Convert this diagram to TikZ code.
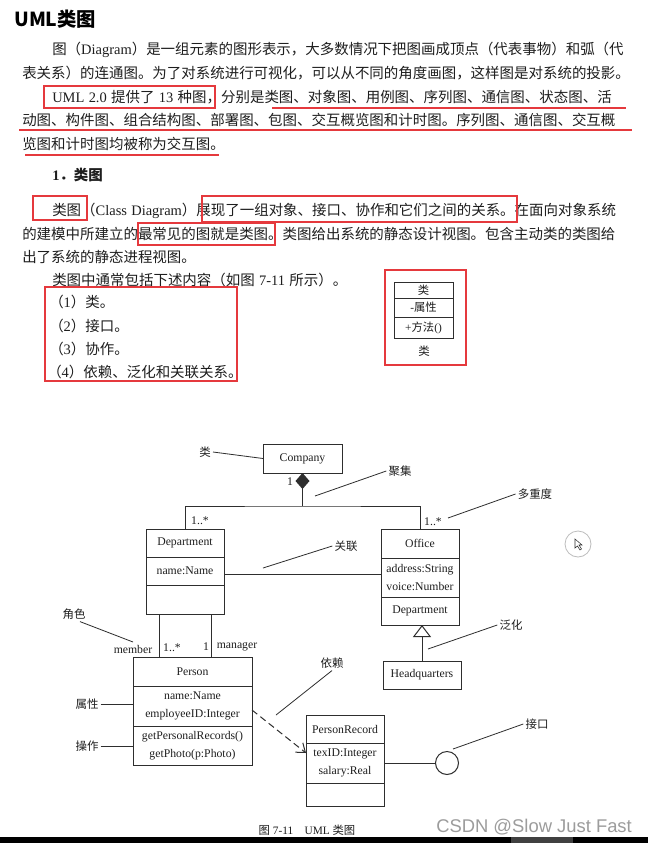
\documentclass[tikz,border=0pt]{standalone}
\usepackage{fontspec}
\setmainfont{Liberation Serif}
\setsansfont{Liberation Sans}
\newfontfamily\zh{Noto Sans CJK SC}
\usepackage{xcolor}
\usepackage{tikz}
\usetikzlibrary{arrows.meta,positioning}
\XeTeXlinebreaklocale "zh"
\XeTeXlinebreakskip=0pt plus 1pt
\definecolor{Ink}{HTML}{1E1E1E}
\definecolor{Pen}{HTML}{2E2E2E}
\definecolor{Mark}{HTML}{E5393D}
\definecolor{Stamp}{HTML}{9C9C9C}
\definecolor{Ring}{HTML}{BDBDBD}
\newcommand{\en}[1]{{\rmfamily\spaceskip=.3em\relax\xspaceskip=.3em\relax#1}}
\newcommand{\fullline}[2]{\makebox[#1][s]{#2}}
\tikzset{
  para/.style={anchor=west,inner sep=0pt,text=Ink,font=\zh\fontsize{10.85}{13}\selectfont},
  hl/.style={draw=Mark,line width=1.1pt},
  cls/.style={draw=Pen,line width=.75pt,fill=white,inner sep=0pt,outer sep=0pt,align=center,minimum width=#1,text=Ink,font=\fontsize{8.8}{13.5}\selectfont},
  num/.style={inner sep=0pt,text=Ink,font=\fontsize{8.8}{10}\selectfont},
  tag/.style={inner sep=1.5pt,text=Ink,font=\zh\fontsize{8.6}{10}\selectfont},
  lead/.style={draw=Pen,line width=.6pt},
  link/.style={draw=Pen,line width=.75pt},
  depend/.style={draw=Pen,line width=.75pt,dash pattern=on 5pt off 3pt,-{Straight Barb[length=6pt,width=9pt]}}
}
\begin{document}
\begin{tikzpicture}[x=.75pt,y=-.75pt]
  \fill[white] (0,0) rectangle (648,843);
  \useasboundingbox (0,0) rectangle (648,843);
  \node[anchor=west,inner sep=0pt,font=\zh\bfseries\fontsize{14.5}{17}\selectfont] (ttl) at (14,19) {UML类图};
  \node[para] (l1) at (52,50) {\fullline{433.5pt}{图（\en{Diagram}）是一组元素的图形表示，大多数情况下把图画成顶点（代表事物）和弧（代}};
  \node[para] (l2) at (22,73) {\fullline{457.5pt}{表关系）的连通图。为了对系统进行可视化，可以从不同的角度画图，这样图是对系统的投影。}};
  \node[para] (l3) at (52,97) {\fullline{433.5pt}{\en{UML 2.0 }提供了\en{ 13 }种图，分别是类图、对象图、用例图、序列图、通信图、状态图、活}};
  \node[para] (l4) at (22,120) {\fullline{457.5pt}{动图、构件图、组合结构图、部署图、包图、交互概览图和计时图。序列图、通信图、交互概}};
  \node[para] (l5) at (22,144) {览图和计时图均被称为交互图。};
  \node[para,font=\zh\bfseries\fontsize{10.85}{13}\selectfont] (sec) at (52,175) {\en{1}．类图};
  \node[para] (l6) at (52,211) {\fullline{433.5pt}{类图（\en{Class Diagram}）展现了一组对象、接口、协作和它们之间的关系。在面向对象系统}};
  \node[para] (l7) at (22,234) {\fullline{457.5pt}{的建模中所建立的最常见的图就是类图。类图给出系统的静态设计视图。包含主动类的类图给}};
  \node[para] (l8) at (22,257) {出了系统的静态进程视图。};
  \node[para] (l9) at (52,280) {类图中通常包括下述内容（如图\en{ 7-11 }所示）。};
  \node[para] (it1) at (49,302) {（\en{1}）类。};
  \node[para] (it2) at (49,326) {（\en{2}）接口。};
  \node[para] (it3) at (49,349) {（\en{3}）协作。};
  \node[para] (it4) at (47,372) {（\en{4}）依赖、泛化和关联关系。};
  \draw[hl] (44,86) rectangle (215,108);
  \draw[hl] (272,108) -- (626,108);
  \draw[hl] (19,130) -- (632,130);
  \draw[hl] (25,155) -- (219,155);
  \draw[hl] (33,196) rectangle (87,220);
  \draw[hl] (202,196) rectangle (517,222);
  \draw[hl] (138,223) rectangle (275,245);
  \draw[hl] (45,287) rectangle (237,381);
  \draw[hl] (385,270) rectangle (466,365);
  \node[cls=44.25pt,minimum height=12pt,anchor=north west,font=\zh\fontsize{8.5}{10}\selectfont] (sN) at (394,282) {类};
  \node[cls=44.25pt,minimum height=14.25pt,below=0pt of sN,font=\zh\fontsize{8.5}{10}\selectfont] (sA) {\en{-}属性};
  \node[cls=44.25pt,minimum height=15.75pt,below=0pt of sA,font=\zh\fontsize{8.5}{10}\selectfont] (sO) {\en{+}方法\en{()}};
  \node[tag] (sCap) at (424,351) {类};
  \node[cls=59.25pt,minimum height=21.75pt,anchor=north west] (co) at (263,444) {Company};
  \node[cls=58.5pt,minimum height=21pt,anchor=north west] (dep) at (146,529) {Department};
  \node[cls=58.5pt,minimum height=21pt,below=0pt of dep] (depA) {name:Name};
  \node[cls=58.5pt,minimum height=21.75pt,below=0pt of depA] (depO) {};
  \node[cls=58.5pt,minimum height=21.75pt,anchor=north west] (off) at (381,529) {Office};
  \node[cls=58.5pt,minimum height=29.25pt,below=0pt of off] (offA) {address:String\\voice:Number};
  \node[cls=58.5pt,minimum height=21pt,below=0pt of offA] (offD) {Department};
  \node[cls=58.5pt,minimum height=21pt,anchor=north west] (hq) at (383,661) {Headquarters};
  \node[cls=89.25pt,minimum height=21.75pt,anchor=north west] (per) at (133,657) {Person};
  \node[cls=89.25pt,minimum height=30pt,below=0pt of per] (perA) {name:Name\\employeeID:Integer};
  \node[cls=89.25pt,minimum height=29.25pt,below=0pt of perA] (perO) {getPersonalRecords()\\getPhoto(p:Photo)};
  \node[cls=58.5pt,minimum height=21pt,anchor=north west] (pr) at (306,715) {PersonRecord};
  \node[cls=58.5pt,minimum height=30pt,below=0pt of pr] (prA) {texID:Integer\\salary:Real};
  \node[cls=58.5pt,minimum height=17.25pt,below=0pt of prA] (prO) {};
  \node[circle,draw=Pen,line width=.75pt,minimum size=17.25pt,inner sep=0pt] (ifc) at (447,763) {};
  \coordinate (jn) at (302.5,506);
  \draw[link,{Diamond[length=12pt,width=10.5pt]}-] (co.south) -- (jn);
  \draw[link] (dep.north) |- (jn) -| (off.north);
  \draw[link] ([yshift=-2.25pt]depA.east) -- ([yshift=-2.25pt]depA.east -| offA.west);
  \draw[link,-{Triangle[open,length=9pt,width=13.5pt]}] (hq.north) -- (hq.north |- offD.south);
  \draw[link] ([xshift=9.75pt]depO.south west) -- ([xshift=9.75pt]depO.south west |- per.north);
  \draw[link] ([xshift=-9.75pt]depO.south east) -- ([xshift=-9.75pt]depO.south east |- per.north);
  \draw[depend] ([yshift=-3pt]perA.east) -- ([yshift=7.5pt]prA.west);
  \draw[link] (prA.east) -- (ifc.west);
  \node[num] (mCo) at (290,482) {1};
  \node[num] (mDep) at (200,521) {1..*};
  \node[num] (mOff) at (433,522) {1..*};
  \node[num] (rMem) at (133,649) {member};
  \node[num] (mMem) at (172,648) {1..*};
  \node[num] (mMan) at (206,647) {1};
  \node[num] (rMan) at (237,647) {manager};
  \node[tag] (tCls) at (205,452) {类};
  \node[tag] (tAgg) at (400,471) {聚集};
  \node[tag] (tMul) at (535,494) {多重度};
  \node[tag] (tAsc) at (346,546) {关联};
  \node[tag] (tGen) at (511,625) {泛化};
  \node[tag] (tRole) at (74,614) {角色};
  \node[tag] (tAtt) at (87,704) {属性};
  \node[tag] (tOp) at (87,746) {操作};
  \node[tag] (tDep) at (332,663) {依赖};
  \node[tag] (tIfc) at (537,724) {接口};
  \coordinate (aAgg) at (315,496);
  \coordinate (aMul) at (448,518);
  \coordinate (aAsc) at (263,568);
  \coordinate (aGen) at (428,649);
  \coordinate (aRole) at (133,642);
  \coordinate (aDep) at (276,715);
  \coordinate (aIfc) at (453,749);
  \draw[lead] (tCls.east) -- (co.west);
  \draw[lead] (tAgg.west) -- (aAgg);
  \draw[lead] (tMul.west) -- (aMul);
  \draw[lead] (tAsc.west) -- (aAsc);
  \draw[lead] (tGen.west) -- (aGen);
  \draw[lead] ([xshift=4.5pt]tRole.south) -- (aRole);
  \draw[lead] (tAtt.east) -- (tAtt.east -| perA.west);
  \draw[lead] (tOp.east) -- (tOp.east -| perO.west);
  \draw[lead] (tDep.south) -- (aDep);
  \draw[lead] (tIfc.west) -- (aIfc);
  \node[inner sep=0pt,text=Ink,font=\fontsize{8.5}{10}\selectfont] (cap) at (307,830) {{\zh 图} 7-11\quad UML {\zh 类图}};
  \node[anchor=west,inner sep=0pt,text=Stamp,font=\sffamily\fontsize{13.8}{16}\selectfont] (wm) at (436,827) {CSDN @Slow Just Fast};
  \node[circle,draw=Ring,line width=.6pt,minimum size=19.5pt,inner sep=0pt] (ring) at (578,544) {};
  \draw[draw=Pen,line width=.4pt] (575,539) -- (575,548) -- (577.5,546) -- (580,550) -- (581.5,549) -- (579,545) -- (582,545) -- cycle;
  \fill[black] (0,837) rectangle (648,843);
  \fill[gray!50!black] (511,837) rectangle (573,843);
\end{tikzpicture}
\end{document}
